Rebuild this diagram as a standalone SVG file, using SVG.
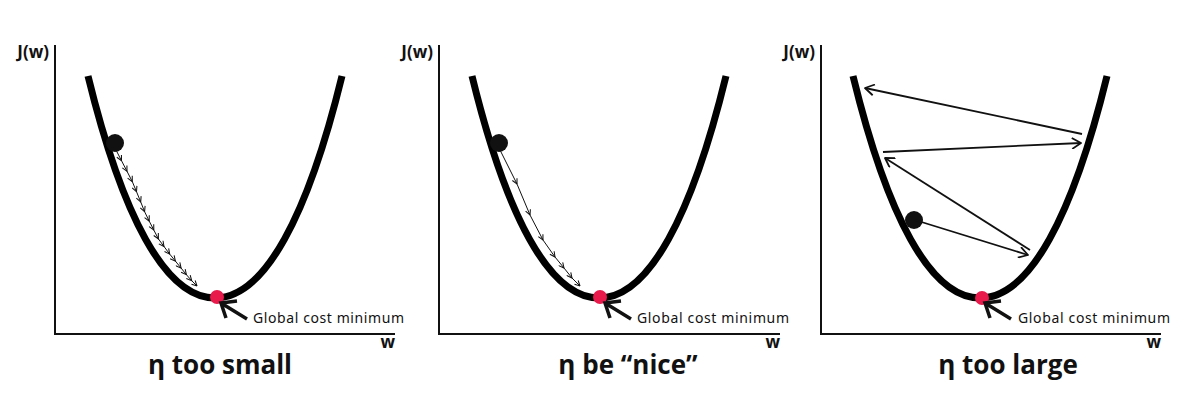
<svg xmlns="http://www.w3.org/2000/svg" width="1200" height="400" viewBox="0 0 1200 400">
<style>
.axis{stroke:#111;stroke-width:2;fill:none}
.curve{stroke:#000;stroke-width:7;fill:none}
.ball{fill:#111}
.min{fill:#e8194b}
.ptr{stroke:#111;stroke-width:3.5;fill:none;stroke-linejoin:miter}
.step{stroke:#111;stroke-width:1;fill:none;marker-end:url(#sm)}
.jump{stroke:#111;stroke-width:1.8;fill:none;marker-end:url(#lg)}
.jl{font-family:"Open Sans","DejaVu Sans",sans-serif;font-weight:700;font-size:17px;fill:#111}
.gl{font-family:"Noto Sans","Liberation Sans",sans-serif;font-size:14px;fill:#111}
.title{font-family:"Open Sans","DejaVu Sans",sans-serif;font-weight:700;font-size:26px;fill:#111;text-anchor:middle}
</style>
<defs>
<marker id="sm" viewBox="0 0 10 10" refX="9" refY="5" markerWidth="6.5" markerHeight="6.5" orient="auto" markerUnits="userSpaceOnUse">
<path d="M1,1 L9,5 L1,9" fill="none" stroke="#111" stroke-width="1.6"/>
</marker>
<marker id="lg" viewBox="0 0 12 12" refX="11" refY="6" markerWidth="12" markerHeight="12" orient="auto" markerUnits="userSpaceOnUse">
<path d="M2,0.5 L11,6 L2,11.5" fill="none" stroke="#111" stroke-width="1.8" stroke-linejoin="round"/>
</marker>
<path id="bowl" d="M88,76 C122,215 165,298 215,298 C265,298 308,215 342,76"/>
</defs>

<g id="panel-small">
<line class="axis" x1="55" y1="45" x2="55" y2="334"/>
<line class="axis" x1="54" y1="334" x2="395" y2="334"/>
<text class="jl" x="49" y="58" text-anchor="end">J(w)</text>
<text class="jl" x="395" y="348" text-anchor="end">w</text>
<use href="#bowl" class="curve"/>
<circle class="ball" cx="115" cy="143" r="9"/>
<circle class="min" cx="217" cy="297" r="7"/>
<path class="ptr" d="M247,319 L221,303 M237,301 L221,303 L226,318"/>
<text class="gl" x="253" y="323" textLength="151" lengthAdjust="spacing">Global cost minimum</text>
<text class="title" x="220" y="374">η too small</text>
</g>

<g id="panel-nice">
<line class="axis" x1="439" y1="45" x2="439" y2="334"/>
<line class="axis" x1="438" y1="334" x2="780" y2="334"/>
<text class="jl" x="433" y="58" text-anchor="end">J(w)</text>
<text class="jl" x="780" y="348" text-anchor="end">w</text>
<use href="#bowl" class="curve" x="384"/>
<circle class="ball" cx="499" cy="143" r="9"/>
<circle class="min" cx="600" cy="297" r="7"/>
<path class="ptr" d="M631,319 L605,303 M621,301 L605,303 L610,318"/>
<text class="gl" x="637" y="323" textLength="152" lengthAdjust="spacing">Global cost minimum</text>
<text class="title" x="628" y="374">η be “nice”</text>
</g>

<g id="panel-large">
<line class="axis" x1="821" y1="45" x2="821" y2="334"/>
<line class="axis" x1="820" y1="334" x2="1161" y2="334"/>
<text class="jl" x="815" y="58" text-anchor="end">J(w)</text>
<text class="jl" x="1161" y="348" text-anchor="end">w</text>
<use href="#bowl" class="curve" x="765"/>
<circle class="ball" cx="914" cy="220" r="9"/>
<circle class="min" cx="982" cy="298" r="7"/>
<path class="ptr" d="M1011,319 L985,303 M1001,301 L985,303 L990,318"/>
<text class="gl" x="1018" y="323" textLength="152" lengthAdjust="spacing">Global cost minimum</text>
<text class="title" x="1008" y="374">η too large</text>
</g>

<g id="connectors">
<polyline class="step" points="116,150 121.5,160.7"/>
<polyline class="step" points="121.5,160.7 127,171.3"/>
<polyline class="step" points="127,171.3 132.3,181.6"/>
<polyline class="step" points="132.3,181.6 136.5,191.7"/>
<polyline class="step" points="136.5,191.7 140.7,201.9"/>
<polyline class="step" points="140.7,201.9 144.6,211.7"/>
<polyline class="step" points="144.6,211.7 149.2,221.1"/>
<polyline class="step" points="149.2,221.1 153.8,230"/>
<polyline class="step" points="153.8,230 158.4,238.9"/>
<polyline class="step" points="158.4,238.9 164,246.5"/>
<polyline class="step" points="164,246.5 169.7,254.1"/>
<polyline class="step" points="169.7,254.1 175.4,261.1"/>
<polyline class="step" points="175.4,261.1 181.1,268.1"/>
<polyline class="step" points="181.1,268.1 186.4,274.7"/>
<polyline class="step" points="186.4,274.7 191.7,280.7"/>
<polyline class="step" points="191.7,280.7 197,286"/>

<polyline class="step" points="500,150 517,184"/>
<polyline class="step" points="517,184 530,215"/>
<polyline class="step" points="530,215 543,240"/>
<polyline class="step" points="543,240 555,257"/>
<polyline class="step" points="555,257 564,268"/>
<polyline class="step" points="564,268 572,278"/>
<polyline class="step" points="572,278 580,286"/>

<line class="jump" x1="915" y1="220" x2="1028" y2="255"/>
<line class="jump" x1="1030" y1="250" x2="885" y2="158"/>
<line class="jump" x1="883" y1="152" x2="1081" y2="143"/>
<line class="jump" x1="1082" y1="134" x2="865" y2="88"/>
</g>
</svg>
